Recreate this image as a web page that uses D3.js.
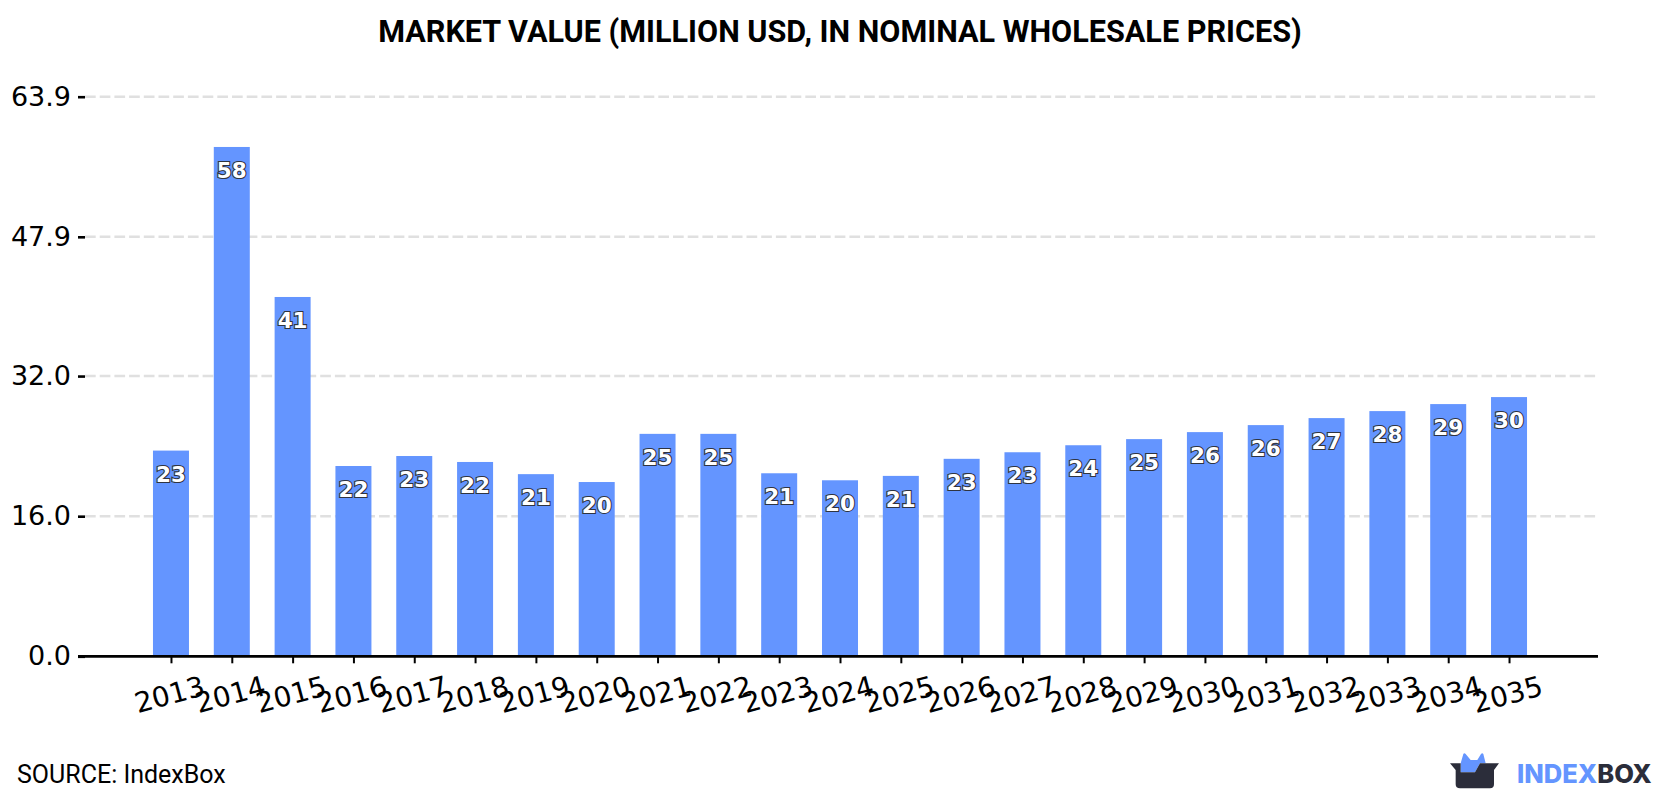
<!DOCTYPE html>
<html>
<head>
<meta charset="utf-8">
<script src="https://cdn.jsdelivr.net/npm/d3@7"></script>
<style>
html, body { margin: 0; padding: 0; background: #fff; }
svg { display: block; }
</style>
</head>
<body>
<svg id="chart" width="1680" height="800"></svg>
<script>
const years = [2013, 2014, 2015, 2016, 2017, 2018, 2019, 2020, 2021, 2022, 2023, 2024,
  2025, 2026, 2027, 2028, 2029, 2030, 2031, 2032, 2033, 2034, 2035];
const marketValue = [23.49, 58.16, 41.03, 21.73, 22.87, 22.19, 20.8, 19.9, 25.4, 25.4, 20.9, 20.1,
  20.6, 22.55, 23.3, 24.1, 24.8, 25.6, 26.4, 27.2, 28.0, 28.8, 29.6];
const yTicks = [0, 16, 32, 47.9, 63.9];
const titleText = "MARKET VALUE (MILLION USD, IN NOMINAL WHOLESALE PRICES)";
const sourceText = "SOURCE: IndexBox";

const BLUE = "#6495ff";
const DARK = "#2b2d3a";
const LABEL_FONT = "'DejaVu Sans', sans-serif";
const TEXT_FONT = "Roboto, sans-serif";

const svg = d3.select("#chart");
const rows = years.map((year, i) => ({ year, value: marketValue[i] }));

const x = d3.scalePoint().domain(years).range([84, 1596]).padding(1.43);
const y = d3.scaleLinear().domain([0, 63.9]).range([656.3, 96.7]);
const barWidth = 36;

// Dashed horizontal guides sit behind the bars
svg.append("g").selectAll("line")
  .data(yTicks.filter(t => t > 0))
  .join("line")
  .attr("x1", 85).attr("x2", 1597)
  .attr("y1", d => y(d)).attr("y2", d => y(d))
  .attr("stroke", "#e0e0e0")
  .attr("stroke-width", 2.6)
  .attr("stroke-dasharray", "10.7 4");

svg.append("g").selectAll("rect")
  .data(rows)
  .join("rect")
  .attr("x", d => x(d.year) - barWidth / 2)
  .attr("y", d => y(d.value))
  .attr("width", barWidth)
  .attr("height", d => y(0) - y(d.value))
  .attr("fill", BLUE);

// Rounded value labels: white digits with a thin dark outline
svg.append("g").selectAll("text")
  .data(rows)
  .join("text")
  .attr("x", d => x(d.year))
  .attr("y", d => y(d.value) + 31)
  .attr("text-anchor", "middle")
  .attr("font-family", LABEL_FONT)
  .attr("font-weight", "bold")
  .attr("font-size", 21.5)
  .attr("fill", "#fff")
  .attr("stroke", "#2f3440")
  .attr("stroke-width", 2.2)
  .attr("paint-order", "stroke")
  .text(d => Math.round(d.value));

// Value axis
const yAxis = d3.axisLeft(y)
  .tickValues(yTicks)
  .tickFormat(d3.format(".1f"))
  .tickSize(7)
  .tickPadding(7);
const yG = svg.append("g").attr("transform", "translate(85,0)").call(yAxis);
yG.select(".domain").remove();
yG.selectAll(".tick line").attr("stroke", "#000").attr("stroke-width", 2.6);
yG.selectAll(".tick text")
  .attr("font-family", LABEL_FONT)
  .attr("font-size", 27)
  .attr("fill", "#000");

// Year axis with slanted labels
const xAxis = d3.axisBottom(x).tickSize(7).tickSizeOuter(0);
const xG = svg.append("g").attr("transform", `translate(0,${y(0)})`).call(xAxis);
xG.select(".domain").remove();
xG.selectAll(".tick line").attr("stroke", "#000").attr("stroke-width", 2);
xG.selectAll(".tick text")
  .attr("font-family", LABEL_FONT)
  .attr("font-size", 28)
  .attr("fill", "#000")
  .attr("text-anchor", "middle")
  .attr("dy", null)
  .attr("y", 48)
  .attr("x", -2)
  .attr("transform", "rotate(-15 -2 38)");
svg.append("line")
  .attr("x1", 78).attr("x2", 1598)
  .attr("y1", y(0)).attr("y2", y(0))
  .attr("stroke", "#000").attr("stroke-width", 2.8);

svg.append("text")
  .attr("x", 840).attr("y", 41.5)
  .attr("text-anchor", "middle")
  .attr("font-family", TEXT_FONT)
  .attr("font-weight", "bold")
  .attr("font-size", 30.6)
  .attr("fill", "#000")
  .text(titleText);

svg.append("text")
  .attr("x", 17).attr("y", 783)
  .attr("font-family", TEXT_FONT)
  .attr("font-size", 25)
  .attr("fill", "#000")
  .text(sourceText);

// Brand mark: an open box with two blue ears, followed by the wordmark
const logo = svg.append("g").attr("transform", "translate(1440,745) scale(0.3333)");
logo.append("path")
  .attr("fill", BLUE)
  .attr("d", "M62 55 L70 27 Q73 22 77 27 L92 45 H112 L123 27 Q127 22 130 27 L137 55 H120 L105 82 H62 Z");
logo.append("path")
  .attr("fill", DARK)
  .attr("d", "M30 55 H62 V82 H105 L120 55 H177 L162 75 V118 Q162 130 150 130 H60 Q47 130 47 118 V75 Z");

const wordmark = svg.append("text")
  .attr("x", 1517).attr("y", 783)
  .attr("font-family", "Inter, Roboto, sans-serif")
  .attr("font-weight", 800)
  .attr("font-size", 25.5);
wordmark.append("tspan").attr("fill", BLUE).text("INDEX");
wordmark.append("tspan").attr("fill", DARK).text("BOX");
</script>
</body>
</html>
